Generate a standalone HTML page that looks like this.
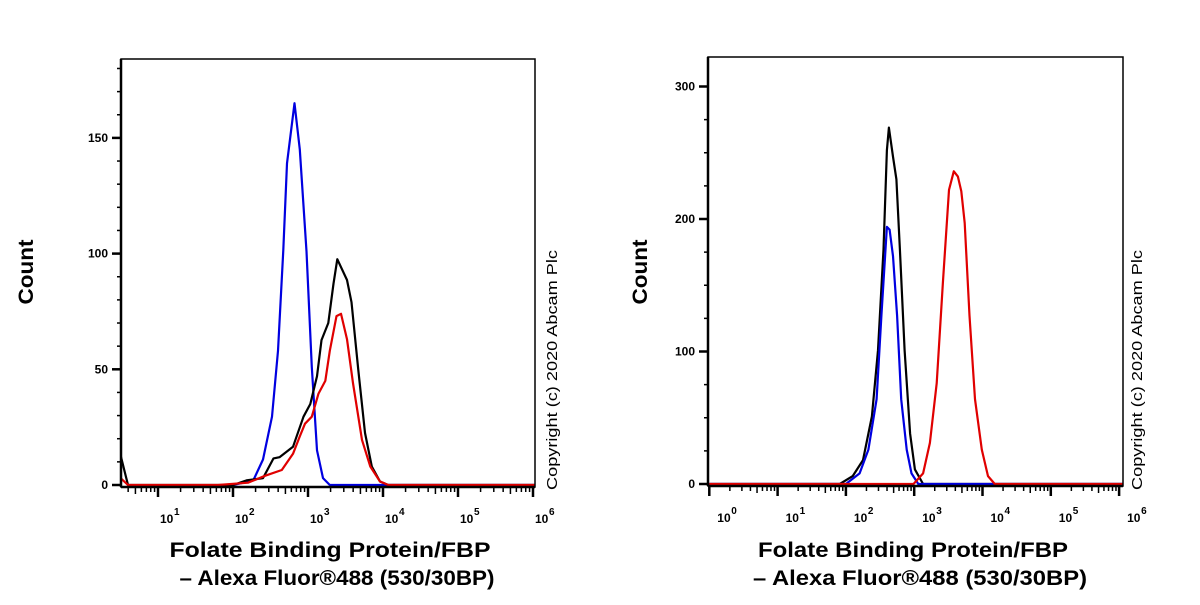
<!DOCTYPE html>
<html><head><meta charset="utf-8"><style>
body{margin:0;background:#fff;width:1200px;height:600px;overflow:hidden;font-family:"Liberation Sans",Arial,sans-serif}
svg text{font-family:"Liberation Sans",Arial,sans-serif}
</style></head><body>
<svg id="chart" width="1200" height="600" viewBox="0 0 1200 600" xmlns="http://www.w3.org/2000/svg"></svg>
<script>
// Left panel data (x = log10 intensity, y = count)
const leftBlueX=[2.0,2.27,2.40,2.52,2.60,2.67,2.72,2.82,2.89,2.98,3.05,3.12,3.20,3.29,6.1];
const leftBlueY=[0,2,11,29.5,58,101.5,139,165,145,101,51,15,3,0,0];
const leftBlackX=[0.5,0.6,2.0,2.18,2.40,2.54,2.62,2.80,2.94,3.03,3.12,3.18,3.27,3.34,3.39,3.52,3.58,3.67,3.76,3.85,3.96,4.07,6.1];
const leftBlackY=[13,0,0,2,3,11.5,12,16.5,29.5,35,47,62.6,70,87,97.6,88.6,79,49.7,22.5,8,1.5,0,0];
const leftRedX=[0.5,0.6,1.8,2.2,2.43,2.65,2.80,2.89,2.96,3.05,3.14,3.23,3.29,3.38,3.44,3.52,3.60,3.72,3.83,3.96,4.07,6.1];
const leftRedY=[3,0,0,1,4,6.5,13.5,21,26.5,29.5,39.5,45,58,73,74,63,44,19.5,8,1.5,0,0];
const leftYTicks=[0,50,100,150];
// Right panel data
const rightBlueX=[0,2.0,2.2,2.33,2.45,2.52,2.6,2.64,2.69,2.75,2.81,2.89,2.96,3.06,6.1];
const rightBlueY=[0,0,8,26,64,127,194,192,172,127,64,26,8,0,0];
const rightBlackX=[0,1.91,2.1,2.25,2.38,2.47,2.55,2.6,2.63,2.69,2.74,2.79,2.86,2.94,3.01,3.13,6.1];
const rightBlackY=[0,0,6,18,51,101,177,252,269,247,230,177,101,38,11,0,0];
const rightRedX=[0,2.99,3.13,3.23,3.33,3.42,3.51,3.58,3.64,3.69,3.74,3.81,3.89,3.99,4.08,4.18,6.1];
const rightRedY=[0,0,8,31,76,152,222,236,232,221,197,127,64,26,6,0,0];
const rightYTicks=[0,100,200,300];
const decades=[0,1,2,3,4,5,6];

const NS="http://www.w3.org/2000/svg";
const svg=document.getElementById('chart');
function el(tag,attrs,parent){const e=document.createElementNS(NS,tag);for(const k in attrs)e.setAttribute(k,attrs[k]);(parent||svg).appendChild(e);return e;}

function panel(cfg){
  const g=el('g',{});
  
  
  const xs=v=>cfg.x0+v*cfg.dec;
  const ys=v=>cfg.zero-v*cfg.ppu;
  const clipId=cfg.name+'-clip';
  const cp=el('clipPath',{id:clipId},g);el('rect',{x:cfg.L,y:cfg.T,width:cfg.R-cfg.L,height:cfg.B-cfg.T},cp);
  const series=[[cfg.bx,cfg.by,'#0000e0','blue'],[cfg.kx,cfg.ky,'#000','black'],[cfg.rx,cfg.ry,'#e00000','red']];
  cfg.order.forEach(i=>{
    const s=series[i];
    const d=s[0].map((v,j)=>(j?'L':'M')+xs(v).toFixed(1)+','+ys(s[1][j]).toFixed(1)).join('');
    const p=el('path',{d:d,fill:'none',stroke:s[2],'stroke-width':2.2,'stroke-linejoin':'round','clip-path':'url(#'+clipId+')'},g);
    
    
  });
  const box=el('rect',{x:cfg.L,y:cfg.T,width:cfg.R-cfg.L,height:cfg.B-cfg.T,fill:'none',stroke:'#000','stroke-width':1.5},g);
  
  
  el('line',{x1:cfg.L,y1:cfg.T,x2:cfg.L,y2:cfg.B,stroke:'#000','stroke-width':2.5},g);
  for(let v=0;v<=cfg.ymax;v+=cfg.minorY){
    const y=ys(v);if(y<cfg.T)break;
    const major=cfg.yticks.indexOf(v)>=0;
    el('line',{x1:cfg.L-(major?9:4),y1:y,x2:cfg.L,y2:y,stroke:'#000','stroke-width':major?2.5:1.5},g);
  }
  cfg.yticks.forEach(v=>{
    const t=el('text',{x:cfg.L-13,y:ys(v)+4,'text-anchor':'end','font-size':12,'font-weight':'bold'},g);
    t.textContent=v;
    
    
  });
  el('line',{x1:cfg.L,y1:cfg.B,x2:cfg.R,y2:cfg.B,stroke:'#000','stroke-width':2.5},g);
  decades.forEach(dc=>{
    const xm=xs(dc);
    if(xm>=cfg.L-1&&xm<=cfg.R+1) el('line',{x1:xm,y1:cfg.B,x2:xm,y2:cfg.B+10,stroke:'#000','stroke-width':2.5},g);
    for(let m=2;m<10&&dc<6;m++){const x=xs(dc+Math.log10(m));if(x>=cfg.L&&x<=cfg.R)el('line',{x1:x,y1:cfg.B,x2:x,y2:cfg.B+(m==5?7:5),stroke:'#000','stroke-width':1.5},g);}
    if(xm<cfg.L-5)return;
    const lx=xm+cfg.lblOff;
    const t=el('text',{x:lx,y:cfg.B+36,'font-size':12,'font-weight':'bold'},g);
    t.textContent='10';
    
    
    const s=el('text',{x:lx+14,y:cfg.B+28,'font-size':10,'font-weight':'bold'},g);s.textContent=dc;
  });
  const yt=el('text',{x:cfg.cx,y:272,'text-anchor':'middle','font-size':21,'font-weight':'bold',textLength:65,lengthAdjust:'spacingAndGlyphs',transform:'rotate(-90 '+cfg.cx+' 272)'},g);
  yt.textContent='Count';
  const xt1=el('text',{x:cfg.tx,y:557,'text-anchor':'middle','font-size':21,'font-weight':'bold',textLength:cfg.w1,lengthAdjust:'spacingAndGlyphs'},g);
  xt1.textContent='Folate Binding Protein/FBP';
  const xt2=el('text',{x:cfg.tx+7,y:585,'text-anchor':'middle','font-size':21,'font-weight':'bold',textLength:cfg.w2,lengthAdjust:'spacingAndGlyphs'},g);
  xt2.textContent='– Alexa Fluor®488 (530/30BP)';
  const cr=el('text',{x:cfg.crx,y:370,'text-anchor':'middle','font-size':15,textLength:240,lengthAdjust:'spacingAndGlyphs',transform:'rotate(-90 '+cfg.crx+' 370)'},g);
  cr.textContent='Copyright (c) 2020 Abcam Plc';
}
panel({name:'left-histogram-panel',L:121,R:535,T:59,B:487,x0:83,dec:75,zero:485,ppu:2.314,ymax:180,minorY:10,yticks:leftYTicks,
  bx:leftBlueX,by:leftBlueY,kx:leftBlackX,ky:leftBlackY,rx:leftRedX,ry:leftRedY,order:[0,1,2],cx:33,tx:330,crx:557,lblOff:2,w1:321,w2:315});
panel({name:'right-histogram-panel',L:708,R:1123,T:57,B:486,x0:709.3,dec:68.3,zero:484,ppu:1.325,ymax:320,minorY:25,yticks:rightYTicks,
  bx:rightBlueX,by:rightBlueY,kx:rightBlackX,ky:rightBlackY,rx:rightRedX,ry:rightRedY,order:[1,0,2],cx:647,tx:913,crx:1142,lblOff:8,w1:310,w2:334});
</script>
</body></html>
